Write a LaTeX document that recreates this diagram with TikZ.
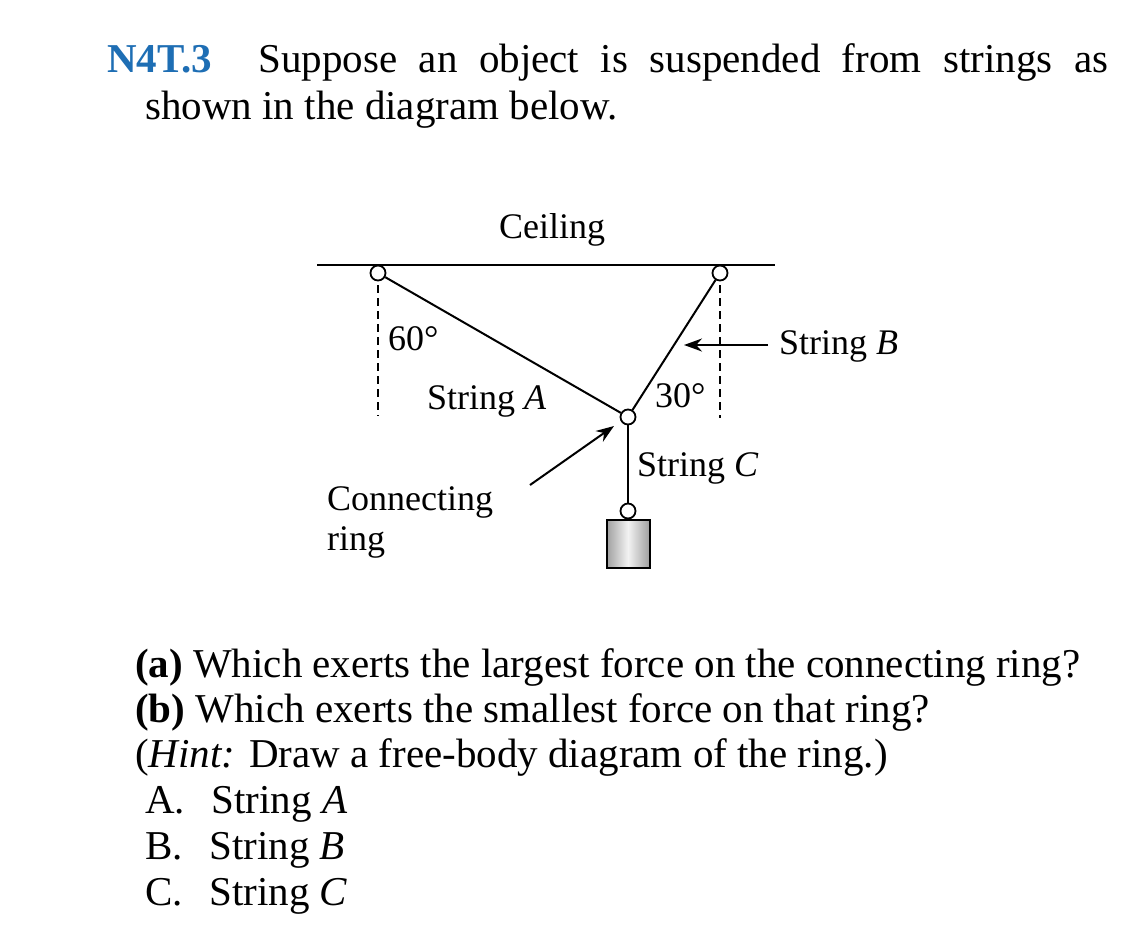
\documentclass[tikz,border=0pt]{standalone}
\usepackage{fontspec}
\setmainfont{Liberation Serif}
\usetikzlibrary{arrows.meta}
\definecolor{nblue}{RGB}{30,110,180}
\begin{document}
\begin{tikzpicture}[x=1pt,y=-1pt,
  ln/.style={line width=2pt},
  ringc/.style={circle,draw,line width=1.8pt,fill=white,minimum size=15pt,inner sep=0pt},
  dl/.style={line width=1.6pt,dash pattern=on 8pt off 5pt},
  ptr/.style={line width=2pt,-{Stealth[length=18pt,width=13pt]}},
  lab/.style={font=\fontsize{36}{40}\selectfont,inner sep=0pt},
  q/.style={font=\fontsize{41}{46}\selectfont,inner sep=0pt,anchor=base west}]
\useasboundingbox (0,0) rectangle (1137,946);
\node[q] (t1) at (107,72) {\makebox[1001pt][s]{\textbf{\color{nblue}N4T.3}\hspace{0.6em} Suppose an object is suspended from strings as}};
\node[q] (t2) at (145,119) {shown in the diagram below.};
% ceiling
\coordinate (c1) at (317,265); \coordinate (c2) at (775,265);
\draw[ln] (c1) -- (c2);
\node[lab] (ceil) at (552,230) {Ceiling};
\coordinate (dA1) at (378,285); \coordinate (dA2) at (378,416);
\coordinate (dB1) at (720,285); \coordinate (dB2) at (720,418);
\draw[dl] (dA1) -- (dA2);
\draw[dl] (dB1) -- (dB2);
\node[ringc] (rA) at (378,273) {};
\node[ringc] (rB) at (720,273) {};
\node[ringc] (rR) at (628,417) {};
\node[ringc] (rW) at (628,511) {};
\draw[ln] (rA) -- (rR);
\draw[ln] (rB) -- (rR);
\draw[ln] (rR) -- (rW);
\node[draw,line width=2pt,minimum width=43pt,minimum height=48pt,inner sep=0pt,anchor=north,
  left color=gray!75,right color=gray!75,middle color=gray!10] (box) at (628,519) {};
\node[lab,anchor=west] (a60) at (388,339) {60°};
\node[lab,anchor=west] (sA) at (427,401) {String \textit{A}};
\node[lab,anchor=west] (a30) at (655,396) {30°};
\node[lab,anchor=west] (sC) at (637,468) {String \textit{C}};
\node[lab,anchor=west] (sB) at (779,346) {String \textit{B}};
\node[lab,anchor=north west,align=left] (cr) at (327,486) {Connecting\\ring};
\coordinate (pB) at (768,345); \coordinate (pBt) at (684,345);
\draw[ptr] (pB) -- (pBt);
\coordinate (pR) at (530,485); \coordinate (pRt) at (614,426);
\draw[ptr] (pR) -- (pRt);
% questions
\node[q] (qa) at (135,677) {\textbf{(a)} Which exerts the largest force on the connecting ring?};
\node[q] (qb) at (135,722) {\textbf{(b)} Which exerts the smallest force on that ring?};
\node[q] (qh) at (135,767) {(\textit{Hint:} Draw a free-body diagram of the ring.)};
\node[q] (oa) at (145,813) {A.\hspace{0.4em} String \textit{A}};
\node[q] (ob) at (145,859) {B.\hspace{0.4em} String \textit{B}};
\node[q] (oc) at (145,905) {C.\hspace{0.4em} String \textit{C}};
\end{tikzpicture}
\end{document}
